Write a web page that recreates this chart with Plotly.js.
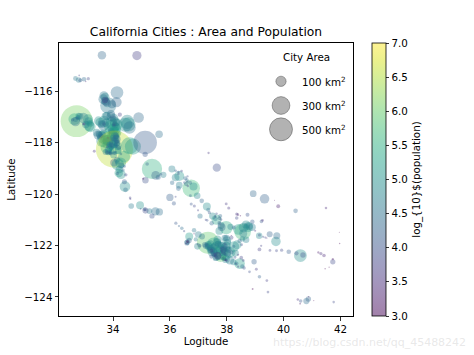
<!DOCTYPE html>
<html><head><meta charset="utf-8">
<script src="https://cdn.plot.ly/plotly-3.0.1.min.js"></script>
<style>html,body{margin:0;padding:0;background:#fff;}#chart{width:474px;height:355px;}</style>
</head><body><div id="chart"></div>
<script>
// ---- data (read / estimated from the picture) ----
const lat = [
 32.72,32.64,33.20,33.12,33.16,32.79,33.20,33.14,33.04,32.68,32.77,32.84,32.96,32.58,32.74,32.68,32.99,32.96,
 32.79,32.68,32.98,32.85,32.81,33.13,33.04,33.61,34.84,
 33.83,33.72,33.72,33.80,33.66,33.68,33.96,33.76,33.72,34.14,34.12,
 33.95,33.94,33.88,33.55,33.49,33.75,33.68,33.78,33.67,33.93,33.93,33.78,33.93,33.68,34.00,33.60,33.96,34.00,
 34.11,34.09,34.11,34.06,34.54,34.10,34.43,34.01,34.10,34.50,34.06,34.13,33.99,34.07,34.03,34.08,34.58,34.05,34.03,34.90,34.24,
 33.84,33.75,33.68,33.66,33.77,33.87,33.79,33.67,33.60,33.75,33.62,33.87,33.65,33.74,33.89,33.43,33.52,33.93,33.71,33.87,33.64,33.58,33.82,33.80,33.50,33.47,33.92,33.60,33.74,33.54,33.80,33.82,
 34.05,33.77,34.14,34.39,34.70,34.58,34.06,33.84,34.16,34.07,
 33.94,33.96,34.07,33.90,34.18,33.90,33.95,33.83,34.02,33.92,
 33.98,34.09,33.85,33.88,34.09,33.93,33.85,33.98,34.01,34.06,
 33.89,33.98,34.14,34.00,33.89,34.08,34.14,34.09,34.13,33.86,
 33.92,34.02,34.07,34.09,34.15,34.14,34.03,33.89,34.10,34.11,
 34.11,34.02,33.74,33.79,33.87,34.28,34.15,34.11,34.10,34.11,
 34.14,33.89,33.98,33.97,34.03,33.94,33.80,33.79,33.92,34.20,
 33.34,
 34.20,34.17,34.27,34.28,34.22,34.29,34.35,34.15,34.40,34.45,
 34.42,34.95,34.64,34.44,34.40,34.97,34.61,34.60,35.28,35.63,35.49,35.12,35.12,35.37,35.14,
 35.37,35.77,35.62,35.59,35.50,35.13,35.20,35.13,35.68,35.14,35.06,
 36.33,36.20,36.07,36.33,36.30,36.54,36.30,36.20,36.41,36.30,36.08,36.00,
 36.75,36.83,36.96,36.60,36.57,36.71,36.72,36.14,36.75,36.86,36.51,36.61,36.62,36.63,36.20,37.12,
 37.30,37.06,37.35,37.39,36.99,37.26,37.64,37.50,37.60,37.74,37.77,37.47,37.31,37.64,37.60,
 37.98,37.74,37.80,38.13,37.82,37.74,37.80,
 37.98,38.07,38.35,38.73,38.90,39.22,39.26,39.33,38.93,37.65,37.36,38.48,38.35,38.39,
 38.56,38.41,38.75,38.70,38.68,38.59,38.55,38.68,38.58,39.14,38.79,38.89,38.25,39.15,38.45,38.52,38.16,39.00,39.28,
 39.73,40.59,39.51,39.76,40.18,40.45,40.68,39.93,39.75,39.52,39.21,39.15,39.36,39.41,
 40.80,40.87,40.60,41.76,40.58,40.50,40.88,41.06,41.73,41.42,41.31,41.22,41.49,40.42,39.81,39.68,41.96,41.97,41.73,41.46,41.60,
 38.45,38.23,38.30,38.10,38.25,38.36,38.34,38.55,38.11,37.97,38.61,38.29,38.80,38.40,38.33,38.51,38.58,38.17,38.05,38.24,38.16,39.15,39.45,39.41,38.91,38.96,39.04,38.40,37.91,37.86,37.93,37.93,37.98,37.99,37.87,37.87,37.96,
 37.78,37.34,37.80,37.55,37.67,37.37,37.35,37.98,37.87,37.94,
 38.00,37.69,37.56,37.68,37.66,37.72,37.49,37.39,37.43,37.59,
 37.91,38.03,37.65,37.44,37.78,37.77,37.93,37.32,37.70,37.00,
 37.13,37.29,37.23,37.26,37.53,37.45,37.63,37.61,37.55,37.58,
 38.02,37.82,37.95,37.99,38.02,37.92,37.96,37.89,37.88,37.84,
 37.94,37.46,37.52,37.51,37.60,37.47,37.39,37.89,37.82,37.83,
 37.68,37.46,37.56,
 36.68,36.97,36.91,36.60,36.61,36.85,36.68,36.62,36.42,36.32,36.21,36.50,37.05,36.97,36.56,36.59,36.62,36.85
];
const lon = [
 -117.16,-117.08,-117.38,-117.09,-117.35,-116.96,-117.24,-117.17,-117.29,-117.10,-117.02,-116.97,-117.04,-117.11,-117.03,-117.18,-117.27,-117.27,
 -115.56,-115.50,-115.53,-115.57,-115.38,-115.51,-115.62,-114.60,-114.61,
 -116.55,-116.37,-116.23,-116.47,-116.31,-116.17,-116.50,-116.42,-116.34,-116.05,-116.42,
 -117.40,-117.23,-117.57,-117.21,-117.15,-116.97,-117.17,-117.23,-117.33,-116.98,-116.88,-116.96,-117.55,-117.27,-117.06,-117.28,-117.56,-117.47,
 -117.29,-117.44,-117.59,-117.65,-117.29,-117.37,-117.30,-117.69,-117.65,-117.19,-117.18,-117.21,-117.73,-117.31,-117.04,-117.70,-117.41,-117.26,-117.31,-117.02,-116.91,
 -117.91,-117.87,-117.79,-118.00,-117.94,-117.93,-117.85,-117.91,-117.67,-117.99,-117.93,-118.00,-117.69,-117.82,-117.81,-117.61,-117.71,-117.95,-117.95,-117.87,-117.60,-117.73,-118.04,-117.99,-117.66,-117.70,-117.90,-117.72,-118.10,-117.78,-118.07,-117.81,
 -118.25,-118.19,-118.26,-118.54,-118.15,-118.12,-117.75,-118.34,-118.13,-118.03,
 -118.13,-118.35,-117.94,-118.08,-118.31,-118.22,-118.21,-118.28,-118.49,-118.35,
 -118.03,-118.13,-118.13,-118.12,-117.96,-118.21,-118.39,-118.10,-118.11,-118.12,
 -118.31,-118.22,-118.04,-117.81,-118.16,-118.07,-117.86,-117.89,-117.91,-118.06,
 -118.01,-118.40,-118.40,-118.36,-118.00,-118.66,-118.78,-118.41,-117.72,-117.81,
 -117.77,-117.86,-118.36,-118.32,-118.40,-118.44,-118.76,-118.15,-118.10,-118.06,
 -117.97,-118.35,-118.19,-118.15,-117.95,-118.08,-118.17,-118.39,-118.42,-118.19,
 -118.33,
 -119.18,-118.84,-118.78,-119.23,-119.04,-118.88,-119.06,-119.20,-118.92,-119.25,
 -119.70,-120.43,-120.46,-119.83,-119.52,-120.57,-120.19,-120.14,-120.66,-120.69,-120.67,-120.59,-120.62,-120.85,-120.64,
 -119.02,-119.25,-117.67,-119.34,-119.27,-118.45,-118.83,-117.99,-119.23,-119.46,-119.40,
 -119.29,-119.35,-119.02,-119.65,-119.78,-119.39,-119.14,-119.09,-119.10,-119.21,-119.56,-120.13,
 -119.77,-119.70,-120.06,-119.45,-119.61,-119.56,-120.06,-120.36,-120.38,-120.46,-119.55,-119.53,-119.31,-119.68,-120.10,-120.26,
 -120.48,-120.85,-120.61,-120.72,-120.63,-121.00,-121.00,-120.85,-120.96,-120.94,-120.85,-121.13,-121.02,-120.76,-120.87,
 -121.30,-121.43,-121.22,-121.27,-121.28,-121.12,-120.99,
 -120.38,-120.54,-120.77,-120.80,-121.07,-121.06,-121.02,-120.18,-119.98,-118.97,-118.40,-120.84,-120.93,-120.80,
 -121.47,-121.37,-121.29,-121.28,-121.18,-121.30,-121.74,-121.77,-121.53,-121.62,-121.24,-121.29,-121.30,-121.59,-121.82,-121.97,-121.61,-121.42,-121.66,
 -121.84,-122.39,-121.56,-121.62,-122.24,-122.30,-122.37,-122.18,-122.20,-122.19,-122.01,-122.15,-121.69,-121.71,
 -124.16,-124.08,-124.16,-124.20,-124.26,-124.10,-123.99,-124.14,-122.63,-122.39,-122.31,-122.27,-120.54,-120.65,-120.47,-120.24,-121.48,-121.92,-122.53,-122.90,-122.84,
 -122.70,-122.64,-122.29,-122.26,-122.04,-121.97,-122.70,-122.81,-122.57,-122.53,-122.87,-122.46,-123.02,-122.82,-122.71,-122.47,-122.58,-122.26,-122.16,-122.03,-121.69,-123.21,-123.81,-123.36,-123.69,-122.63,-122.92,-122.36,-122.54,-122.49,-122.53,-122.52,-122.56,-122.59,-122.46,-122.46,-122.56,
 -122.42,-121.89,-122.27,-121.99,-122.08,-122.04,-121.96,-122.03,-122.27,-122.35,
 -121.81,-122.47,-122.31,-121.77,-121.87,-122.16,-122.24,-122.08,-121.91,-122.02,
 -122.06,-121.88,-122.41,-122.14,-121.98,-122.26,-121.70,-122.03,-121.94,-121.57,
 -121.65,-121.95,-121.97,-122.02,-122.04,-122.18,-122.41,-122.49,-122.27,-122.35,
 -122.13,-122.00,-122.06,-121.71,-122.29,-122.31,-122.35,-122.12,-122.18,-122.13,
 -121.94,-122.43,-122.29,-122.26,-122.40,-122.14,-122.11,-122.30,-122.23,-122.29,
 -122.40,-122.20,-122.36,
 -121.65,-122.03,-121.76,-121.89,-121.85,-121.40,-121.80,-121.92,-121.33,-121.24,-121.13,-121.44,-122.01,-121.95,-121.92,-121.83,-121.85,-121.54
];
const areaKm2 = [
 964,134,109,96,101,38,48,63,51,24,24,43,102,11,10,84,9,6,
 29,22,20,15,3,10,2,68,80,
 246,70,76,56,92,76,60,64,38,153,104,
 211,133,103,87,78,72,121,81,108,79,60,67,36,12,38,61,34,113,
 153,109,103,130,192,58,190,77,40,190,94,49,116,41,72,14,146,19,9,106,17,
 131,71,171,82,46,58,65,41,47,26,138,27,32,29,52,58,38,19,23,17,33,19,17,8,37,75,31,17,33,25,11,5,
 1302,131,79,135,244,275,59,53,60,25,
 33,24,42,25,45,26,19,50,41,16,
 38,20,25,16,17,12,16,23,22,20,
 15,8,29,38,12,13,51,18,25,23,
 20,13,15,5,36,34,51,10,35,40,
 22,23,35,5,4,6,20,9,11,10,
 17,5,7,6,9,23,6,12,14,22,
 8,
 69,143,109,84,51,33,12,12,8,11,
 108,59,30,21,24,3,4,6,33,51,67,15,6,26,35,
 391,37,54,24,72,26,12,527,7,39,4,
 94,55,45,43,22,17,6,7,7,6,19,50,
 290,62,41,13,14,15,8,16,9,9,7,6,5,6,4,20,
 60,26,16,10,4,4,95,44,23,11,16,19,6,6,5,
 168,58,45,36,58,14,6,
 8,9,9,15,19,12,6,87,43,65,5,2,12,7,
 259,109,95,37,64,88,26,40,59,39,51,52,15,9,18,8,1,4,5,
 86,155,34,47,20,17,28,10,8,7,5,14,5,2,
 37,28,12,6,3,6,1.5,1.3,26,12,10,5,6,20,14,1,1,2,5,2,1.6,
 107,37,47,128,106,75,17,19,72,58,11,7,7,5,5,13,7,16,40,11,18,12,7,7,3.5,27,8,4,12,6,8,11,7,6,34,6,4,
 121,466,202,226,164,57,48,79,46,136,
 76,20,41,65,62,40,89,31,35,50,
 51,46,79,66,48,60,39,29,38,42,
 33,15,29,32,36,45,14,33,51,15,
 35,47,18,41,47,10,7,40,33,24,
 10,17,12,15,8,7,17,14,4,3.2,
 53,13,16,
 60,41,17,30,25,19,25,10,12,5,10,5,12,4,3,1,7,2
];
const logPop = [
 6.11,5.39,5.23,5.16,5.02,5.00,4.97,4.92,4.78,4.77,4.76,4.73,4.68,4.42,4.41,4.38,4.11,3.63,
 4.63,4.60,4.39,4.16,3.78,3.87,3.35,4.31,3.69,
 4.65,4.68,4.88,4.71,4.57,4.61,4.41,4.24,3.70,4.40,4.32,
 5.48,5.29,5.18,5.00,5.00,4.90,4.92,4.83,4.71,4.57,4.47,4.64,4.43,4.03,3.90,4.51,4.72,4.98,
 5.32,5.29,5.22,5.21,5.06,5.00,4.95,4.89,4.87,4.84,4.84,4.72,4.87,4.72,4.71,4.57,4.50,4.36,4.09,4.36,3.70,
 5.53,5.51,5.33,5.28,5.23,5.13,5.13,5.04,4.97,4.96,4.93,4.91,4.89,4.88,4.81,4.80,4.80,4.78,4.74,4.71,4.68,4.68,4.68,4.58,4.54,4.53,4.60,4.49,4.39,4.36,4.06,3.77,
 6.58,5.67,5.28,5.25,5.19,5.18,5.17,5.16,5.14,5.06,
 5.05,5.04,5.03,5.02,5.02,4.98,4.97,4.96,4.95,4.93,
 4.93,4.92,4.90,4.89,4.88,4.84,4.83,4.80,4.79,4.79,
 4.77,4.77,4.75,4.75,4.74,4.73,4.70,4.68,4.67,4.69,
 4.69,4.59,4.54,4.54,4.57,4.38,4.10,4.55,4.54,4.53,
 4.50,4.47,4.62,4.31,4.29,4.37,4.31,4.41,4.60,4.55,
 4.33,4.51,4.55,4.62,4.60,4.23,4.04,4.13,4.22,4.31,
 3.57,
 5.30,5.10,5.09,5.03,4.82,4.54,4.47,4.33,4.18,3.88,
 4.95,5.00,4.63,4.48,4.13,3.85,3.68,3.72,4.65,4.48,4.45,4.24,4.12,4.01,3.89,
 5.54,4.72,4.45,4.41,4.23,4.10,4.29,4.15,4.15,3.97,3.05,
 5.09,4.77,4.73,4.73,4.39,4.38,4.02,4.10,3.88,4.03,4.39,4.18,
 5.69,4.98,4.79,4.39,4.37,4.39,4.14,4.12,4.04,3.88,4.06,4.16,3.97,3.77,3.83,4.27,
 4.90,4.55,4.45,4.10,3.69,3.74,5.30,4.83,4.66,4.35,4.31,4.31,4.01,3.93,3.82,
 5.47,4.92,4.83,4.80,4.25,4.15,3.85,
 3.67,3.58,3.65,4.02,4.13,4.10,3.49,4.20,4.33,3.92,3.58,3.00,3.89,3.40,
 5.67,5.18,5.07,4.92,4.86,4.81,4.81,4.75,4.68,4.81,4.76,4.63,4.36,4.09,4.27,3.84,2.90,3.54,3.93,
 4.94,4.95,4.20,4.42,4.15,4.00,4.00,3.88,3.88,3.79,3.77,3.70,3.81,3.23,
 4.43,4.25,4.07,3.90,3.13,3.53,3.10,2.50,3.89,3.42,3.52,3.20,3.45,4.25,3.30,2.90,3.00,2.95,3.11,2.87,2.92,
 5.22,4.76,4.88,5.06,5.02,4.96,4.61,4.42,4.71,4.76,4.05,4.03,3.93,3.88,3.86,3.77,3.71,4.29,4.43,4.45,3.87,4.20,3.86,3.69,2.65,4.18,3.67,3.47,4.15,3.86,4.08,3.97,4.09,3.87,3.95,3.32,3.39,
 5.91,5.98,5.59,5.33,5.16,5.15,5.07,5.09,5.05,5.01,
 5.02,5.00,4.99,4.91,4.85,4.93,4.88,4.87,4.82,4.84,
 4.81,4.80,4.80,4.81,4.86,4.87,4.71,4.76,4.66,4.69,
 4.57,4.60,4.47,4.48,4.63,4.51,4.62,4.57,4.49,4.46,
 4.56,4.62,4.52,4.55,4.38,4.37,4.47,4.38,4.24,4.21,
 4.04,4.05,4.42,4.45,4.33,4.45,4.46,4.27,4.04,4.00,
 3.64,3.84,4.04,
 5.18,4.78,4.71,4.44,4.52,4.55,4.29,4.18,4.41,4.22,4.10,3.92,4.07,3.99,3.58,3.20,2.50,3.27
];
const legendAreas = [100, 300, 500];
const xTicks = [34, 36, 38, 40, 42];
const yTicks = [-116, -118, -120, -122, -124];
const cbTicks = [3.0, 3.5, 4.0, 4.5, 5.0, 5.5, 6.0, 6.5, 7.0];

if (lat.length !== lon.length || lat.length !== areaKm2.length || lat.length !== logPop.length) {
  throw new Error('length mismatch ' + [lat.length, lon.length, areaKm2.length, logPop.length].join(','));
}

// ---- styling ----
const PX_PER_PT = 1.028;            // matplotlib points -> pixels at this image scale
const FONT = 'DejaVu Sans';
const viridisHex = ['#440154','#48186a','#472d7b','#424086','#3b528b','#33638d','#2c728e','#26828e',
  '#21918c','#1fa088','#28ae80','#3fbc73','#5ec962','#84d44b','#addc30','#d8e219','#fde725'];
const viridisA = viridisHex.map((h, i) => {
  const r = parseInt(h.slice(1,3),16), g = parseInt(h.slice(3,5),16), b = parseInt(h.slice(5,7),16);
  return [i/(viridisHex.length-1), `rgba(${r},${g},${b},0.5)`];
});

const L = 59, R = 353, T = 43, B = 316, W = 474, H = 355;
const pxX = px => (px - L) / (R - L);
const pxY = py => (B - py) / (B - T);

const trace = {
  type: 'scatter', mode: 'markers',
  x: lat, y: lon,
  marker: {
    size: areaKm2.map(a => Math.sqrt(a) * PX_PER_PT),
    sizemode: 'diameter',
    color: logPop, colorscale: viridisA, cmin: 3, cmax: 7,
    line: {width: 0},
    showscale: true,
    colorbar: {
      x: pxX(372), xanchor: 'left', xpad: 0, ypad: 0,
      y: 0.5, yanchor: 'middle', len: 1, lenmode: 'fraction',
      thickness: 14, outlinewidth: 0.8, outlinecolor: 'black',
      ticks: 'outside', ticklen: 3.5, tickwidth: 0.8, tickcolor: 'black',
      tickvals: cbTicks, ticktext: cbTicks.map(v => v.toFixed(1)),
      tickfont: {family: FONT, size: 10.3, color: 'black'},
      title: {text: 'log_{10}$(population)', side: 'right', font: {family: FONT, size: 10.3, color: 'black'}}
    }
  },
  hoverinfo: 'skip', showlegend: false
};

// legend drawn as pixel-sized circles + labels
const legendRowsPy = [81.3, 105.5, 129.3];
const shapes = legendAreas.map((a, i) => {
  const d = Math.sqrt(a) * PX_PER_PT;
  return {
    type: 'circle', xref: 'paper', yref: 'paper',
    xsizemode: 'pixel', ysizemode: 'pixel',
    xanchor: pxX(281), yanchor: pxY(legendRowsPy[i]),
    x0: -d/2, x1: d/2, y0: -d/2, y1: d/2,
    fillcolor: 'rgba(0,0,0,0.3)', line: {color: 'rgba(0,0,0,0.3)', width: 1}
  };
});
const annotations = legendAreas.map((a, i) => ({
  xref: 'paper', yref: 'paper', x: pxX(300), y: pxY(legendRowsPy[i]),
  xanchor: 'left', yanchor: 'middle', showarrow: false,
  text: a + ' km<sup>2</sup>', font: {family: FONT, size: 10.3, color: 'black'}
}));
annotations.push({
  xref: 'paper', yref: 'paper', x: pxX(306.5), y: pxY(56.5),
  xanchor: 'center', yanchor: 'middle', showarrow: false,
  text: 'City Area', font: {family: FONT, size: 10.3, color: 'black'}
});
annotations.push({
  xref: 'paper', yref: 'paper', x: pxX(468), y: pxY(342),
  xanchor: 'right', yanchor: 'middle', showarrow: false,
  text: 'https://blog.csdn.net/qq_45488242', font: {family: FONT, size: 11, color: 'rgba(205,205,205,0.45)'}
});

const axisCommon = {
  ticks: 'outside', ticklen: 3.5, tickwidth: 0.8, tickcolor: 'black',
  showline: true, mirror: true, linecolor: 'black', linewidth: 1,
  showgrid: false, zeroline: false,
  tickfont: {family: FONT, size: 10.3, color: 'black'}
};

const layout = {
  width: W, height: H,
  margin: {l: L, r: W - R, t: T, b: H - B, pad: 0},
  paper_bgcolor: 'white', plot_bgcolor: 'white',
  font: {family: FONT, size: 10.3, color: 'black'},
  title: {text: 'California Cities : Area and Population', font: {family: FONT, size: 12.3, color: 'black'},
          xref: 'paper', x: 0.5, xanchor: 'center', yref: 'container', y: 1 - 32/H, yanchor: 'middle'},
  xaxis: Object.assign({}, axisCommon, {
    range: [32.1, 42.44], tickvals: xTicks, ticktext: xTicks.map(String),
    title: {text: 'Logitude', font: {family: FONT, size: 10.3, color: 'black'}, standoff: 3}
  }),
  yaxis: Object.assign({}, axisCommon, {
    range: [-124.74, -114.12], tickvals: yTicks,
    title: {text: 'Latitude', font: {family: FONT, size: 10.3, color: 'black'}, standoff: 6}
  }),
  shapes: shapes, annotations: annotations,
  showlegend: false
};

Plotly.newPlot('chart', [trace], layout, {staticPlot: true, displayModeBar: false});
</script>
</body></html>
